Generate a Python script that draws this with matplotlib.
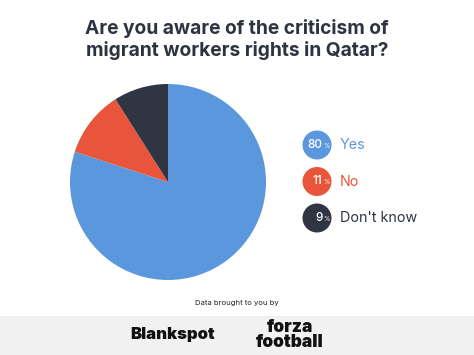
import matplotlib
matplotlib.use("Agg")
import matplotlib.pyplot as plt
from matplotlib.patches import Circle, Rectangle

labels = ["Yes", "No", "Don't know"]
values = [80, 11, 9]
colors = ["#5b97dc", "#e9553a", "#2f3542"]
label_colors = ["#5b97dc", "#e9553a", "#2d3340"]
title = "Are you aware of the criticism of\nmigrant workers rights in Qatar?"

plt.rcParams["font.family"] = ["Inter", "DejaVu Sans"]

W, H = 474, 355
fig = plt.figure(figsize=(W / 100, H / 100), dpi=100)

# background layer in pixel coords
bg = fig.add_axes([0, 0, 1, 1])
bg.set_xlim(0, W)
bg.set_ylim(H, 0)
bg.axis("off")

bg.add_patch(Rectangle((0, 316), W, 40, color="#f1f1f1", lw=0))

bg.text(W / 2, 40, title, ha="center", va="center", fontsize=13.8,
        fontweight="bold", color="#2d3340", linespacing=1.2)

# legend
for i, (lab, v) in enumerate(zip(labels, values)):
    y = 145 + i * 36.5
    bg.add_patch(Circle((317, y), 14.5, color=colors[i], lw=0))
    bg.text(322.5, y, f"{v}", ha="right", va="center", fontsize=8.5,
            color="white", fontweight="medium")
    bg.text(323, y + 1, "%", ha="left", va="center", fontsize=4.5,
            color="white")
    bg.text(340, y, lab, ha="left", va="center", fontsize=10.3,
            color=label_colors[i])

bg.text(W / 2, 303, "Data brought to you by", ha="center", va="center",
        fontsize=5.5, color="#222222")
bg.text(173, 335, "Blankspot", ha="center", va="center", fontsize=12,
        fontweight="black", color="#111111")
bg.text(290, 335, "forza\nfootball", ha="center", va="center", fontsize=12.5,
        fontweight="black", color="#111111", linespacing=0.8)

# pie
r = 98
cx, cy = 168, 182
ax = fig.add_axes([(cx - r) / W, 1 - (cy + r) / H, 2 * r / W, 2 * r / H])
ax.pie(values, colors=colors, startangle=90, counterclock=False,
       wedgeprops={"linewidth": 0})
ax.set_aspect("auto")
ax.set_xlim(-1, 1)
ax.set_ylim(-1, 1)
ax.axis("off")

fig.savefig("out.png", dpi=100)
